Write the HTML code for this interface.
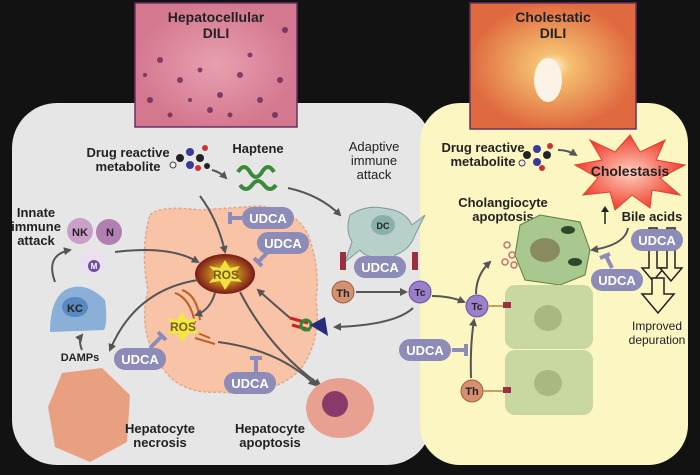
<!DOCTYPE html>
<html><head><meta charset="utf-8"><style>
html,body{margin:0;padding:0;background:#111;}
svg{display:block;font-family:"Liberation Sans",sans-serif;}
.b{font-weight:bold;font-size:13px;fill:#222;text-anchor:middle;}
.n{font-size:13px;fill:#222;text-anchor:middle;}
.u{font-weight:bold;font-size:13px;fill:#fff;text-anchor:middle;}
.a{stroke:#555;stroke-width:2;fill:none;marker-end:url(#ah);}
</style></head><body>
<svg width="700" height="475" viewBox="0 0 700 475">
<defs>
<marker id="ah" markerWidth="8" markerHeight="8" refX="6" refY="4" orient="auto" markerUnits="userSpaceOnUse"><path d="M0,0 L8,4 L0,8 z" fill="#555"/></marker>
<radialGradient id="pk"><stop offset="0" stop-color="#e8a0b0"/><stop offset="1" stop-color="#d47890"/></radialGradient>
<radialGradient id="og"><stop offset="0" stop-color="#fff4e0"/><stop offset="0.2" stop-color="#f5c070"/><stop offset="1" stop-color="#e06a40"/></radialGradient>
<radialGradient id="mi"><stop offset="0.3" stop-color="#d4a020"/><stop offset="1" stop-color="#7a1818"/></radialGradient>
<radialGradient id="cl"><stop offset="0" stop-color="#ffd0c0"/><stop offset="1" stop-color="#f04030"/></radialGradient>
<g id="udca"><rect x="-26" y="-11" width="52" height="22" rx="11" fill="#8d8bb8"/><text class="u" y="5">UDCA</text></g>
</defs>
<rect width="700" height="475" fill="#121212"/>
<rect x="12" y="103" width="420" height="362" rx="45" fill="#e6e6e6"/>
<rect x="420" y="103" width="268" height="362" rx="40" fill="#fbf6c2"/>
<rect x="135" y="3" width="162" height="124" fill="url(#pk)" stroke="#6a3060" stroke-width="1.5"/>
<g fill="#5a1a50" opacity="0.7">
<circle cx="160" cy="60" r="3"/><circle cx="180" cy="80" r="3"/><circle cx="200" cy="70" r="2.5"/><circle cx="220" cy="95" r="3"/><circle cx="240" cy="75" r="3"/><circle cx="260" cy="100" r="3"/><circle cx="150" cy="100" r="3"/><circle cx="170" cy="115" r="2.5"/><circle cx="210" cy="110" r="3"/><circle cx="250" cy="55" r="2.5"/><circle cx="280" cy="80" r="3"/><circle cx="275" cy="115" r="3"/><circle cx="190" cy="100" r="2"/><circle cx="230" cy="115" r="2.5"/><circle cx="145" cy="75" r="2"/><circle cx="285" cy="30" r="3"/>
</g>
<text class="b" x="216" y="22" style="font-size:14px">Hepatocellular</text>
<text class="b" x="216" y="38" style="font-size:14px">DILI</text>
<rect x="470" y="3" width="166" height="126" fill="url(#og)" stroke="#6a3060" stroke-width="1.5"/>
<ellipse cx="548" cy="80" rx="14" ry="22" fill="#fbf3e6"/>
<text class="b" x="553" y="22" style="font-size:14px">Cholestatic</text>
<text class="b" x="553" y="38" style="font-size:14px">DILI</text>

<text class="b" x="128" y="157">Drug reactive</text>
<text class="b" x="128" y="171">metabolite</text>
<g><circle cx="180" cy="158" r="4" fill="#222"/><circle cx="190" cy="152" r="4" fill="#3a3a9a"/><circle cx="200" cy="158" r="4" fill="#222"/><circle cx="190" cy="165" r="4" fill="#3a3a9a"/><circle cx="205" cy="148" r="3" fill="#c33"/><circle cx="198" cy="168" r="3" fill="#c33"/><circle cx="173" cy="165" r="3" fill="#eee" stroke="#444"/><circle cx="207" cy="166" r="3" fill="#222"/></g>
<path class="a" d="M212,170 Q220,172 226,178"/>
<text class="b" x="258" y="153">Haptene</text>
<g fill="none" stroke="#3a8a3a" stroke-width="4"><path d="M238,172 q6,-10 12,0 q6,10 12,0 q6,-10 12,0"/><path d="M240,185 q6,8 12,0 q6,-8 12,0 q6,8 12,0"/></g>
<text class="n" x="374" y="151">Adaptive</text>
<text class="n" x="374" y="165">immune</text>
<text class="n" x="374" y="179">attack</text>
<path class="a" d="M288,188 Q320,195 340,215"/>
<path d="M150,215 Q160,205 200,210 L260,206 Q300,210 310,240 Q320,270 316,300 Q322,340 300,370 Q270,398 220,392 Q175,395 158,360 Q138,330 148,290 Q140,250 150,215 z" fill="#f8c3a6" stroke="#e0a888" stroke-width="1.5" stroke-dasharray="3,2"/>
<ellipse cx="225" cy="274" rx="30" ry="20" fill="url(#mi)"/>
<polygon points="225,260 230,268 240,266 234,274 242,282 231,281 225,290 220,281 209,283 216,274 209,266 220,268" fill="#f0e040"/>
<text class="b" x="226" y="279" style="font-size:12px;fill:#7a5a20">ROS</text>
<g fill="none" stroke="#c06020" stroke-width="2"><path d="M175,293 q15,5 20,30"/><path d="M182,290 q15,5 18,30"/><path d="M190,330 l20,8"/><path d="M195,338 l20,6"/></g>
<polygon points="182,312 187,320 197,318 192,326 200,334 189,333 182,342 177,333 167,335 173,326 167,318 177,320" fill="#f0e840"/>
<text class="b" x="183" y="331" style="font-size:12px;fill:#7a6020">ROS</text>
<path class="a" d="M200,196 Q218,220 225,252"/>
<path class="a" d="M115,252 Q170,245 198,262"/>
<path class="a" d="M215,293 Q210,310 196,315"/>
<path class="a" d="M198,280 Q135,290 110,350"/>
<path class="a" d="M218,342 Q280,350 315,385"/>
<path class="a" d="M240,292 Q270,350 320,385"/>
<path class="a" d="M290,318 Q275,305 258,290"/>
<path class="a" d="M413,308 Q395,325 335,327"/>
<g><path d="M290,318 l18,5 m-16,2 l18,5" stroke="#c22" stroke-width="3"/><circle cx="306" cy="325" r="5" fill="none" stroke="#2a8a3a" stroke-width="3"/><polygon points="310,325 325,317 328,336" fill="#2a2a7a"/></g>
<use href="#udca" x="268" y="218"/><path d="M242,218 h-12 m0,-6 v12" stroke="#8d8bb8" stroke-width="4"/>
<use href="#udca" x="283" y="243"/><path d="M270,250 l-12,12 m-4,-4 l8,8" stroke="#8d8bb8" stroke-width="4"/>
<use href="#udca" x="140" y="359"/><path d="M150,348 l12,-12 m-4,-4 l8,8" stroke="#8d8bb8" stroke-width="4"/>
<use href="#udca" x="250" y="383"/><path d="M256,372 v-14 m-6,0 h12" stroke="#8d8bb8" stroke-width="4"/>
<text class="b" x="36" y="217">Innate</text>
<text class="b" x="36" y="231">immune</text>
<text class="b" x="36" y="245">attack</text>
<circle cx="80" cy="231" r="13" fill="#c8a0c8"/>
<text class="b" x="80" y="236" style="font-size:11px">NK</text>
<circle cx="109" cy="232" r="13" fill="#b080b0"/><text class="b" x="110" y="236" style="font-size:11px">N</text>
<circle cx="92" cy="262" r="13" fill="#ece0f0"/><circle cx="94" cy="266" r="6" fill="#7050a0"/><text class="b" x="94" y="269" style="font-size:8px;fill:#fff">M</text>
<path d="M50,332 Q50,300 65,290 Q85,280 105,300 Q108,322 104,330 z" fill="#8ab0d8"/>
<ellipse cx="75" cy="307" rx="13" ry="10" fill="#5a88c0"/><text class="b" x="75" y="312" style="font-size:11px">KC</text>
<path class="a" d="M55,282 Q45,255 70,250"/>
<path class="a" d="M82,350 Q78,340 82,335"/>
<text class="b" x="80" y="361" style="font-size:11px">DAMPs</text>
<polygon points="62,373 102,368 130,395 127,442 90,462 55,447 48,407" fill="#e8a080"/>
<text class="b" x="160" y="433">Hepatocyte</text>
<text class="b" x="160" y="447">necrosis</text>
<ellipse cx="340" cy="408" rx="34" ry="30" fill="#e8a090"/>
<circle cx="335" cy="404" r="13" fill="#8a3a6a"/>
<text class="b" x="270" y="433">Hepatocyte</text>
<text class="b" x="270" y="447">apoptosis</text>
<path d="M350,215 Q365,205 383,208 Q405,210 412,225 L425,215 L415,235 Q410,250 395,255 L400,275 L385,258 Q365,258 360,250 L345,262 L352,242 Q345,230 350,215 z" fill="#b8d0cc" stroke="#7a9a98"/>
<ellipse cx="383" cy="225" rx="12" ry="10" fill="#8ab0aa"/><text class="b" x="383" y="229" style="font-size:9px">DC</text>
<use href="#udca" x="380" y="267"/>
<rect x="340" y="252" width="6" height="18" fill="#9a3040"/><rect x="412" y="252" width="6" height="18" fill="#9a3040"/>
<circle cx="343" cy="292" r="11" fill="#d49070" stroke="#a06040"/><text class="b" x="343" y="297" style="font-size:11px">Th</text>
<circle cx="420" cy="292" r="11" fill="#9a80c8" stroke="#6a50a0"/><text class="b" x="420" y="296" style="font-size:10px">Tc</text>
<path class="a" d="M356,292 h50"/>
<text class="b" x="483" y="152">Drug reactive</text>
<text class="b" x="483" y="166">metabolite</text>
<g><circle cx="527" cy="155" r="4" fill="#222"/><circle cx="537" cy="149" r="4" fill="#3a3a9a"/><circle cx="547" cy="155" r="4" fill="#222"/><circle cx="537" cy="162" r="4" fill="#3a3a9a"/><circle cx="550" cy="146" r="3" fill="#c33"/><circle cx="542" cy="168" r="3" fill="#c33"/><circle cx="522" cy="163" r="3" fill="#eee" stroke="#444"/></g>
<path class="a" d="M558,150 Q568,150 576,155"/>
<polygon points="630,135 640,152 665,140 656,160 685,165 660,178 680,195 652,190 650,208 632,195 615,210 610,192 583,195 598,178 575,165 602,160 590,140 615,152" fill="url(#cl)" stroke="#e04030"/>
<text class="b" x="630" y="176" style="font-size:14px">Cholestasis</text>
<text class="b" x="503" y="207">Cholangiocyte</text>
<text class="b" x="503" y="221">apoptosis</text>
<text class="b" x="652" y="221">Bile acids</text>
<path d="M605,224 v-14" stroke="#222" stroke-width="1.5"/><path d="M601,212 l4,-6 l4,6 z" fill="#222"/>
<path d="M520,225 L540,215 L580,222 L590,250 L585,275 L560,285 L525,280 L515,255 z" fill="#a8c890" stroke="#5a8040"/>
<ellipse cx="545" cy="250" rx="15" ry="12" fill="#8a8a60"/>
<ellipse cx="568" cy="230" rx="7" ry="4" fill="#2a4a2a"/><ellipse cx="575" cy="262" rx="7" ry="4" fill="#2a4a2a"/>
<g fill="none" stroke="#c87070" stroke-width="1.5"><circle cx="507" cy="245" r="3"/><circle cx="512" cy="255" r="3"/><circle cx="505" cy="262" r="3"/><circle cx="514" cy="265" r="3"/></g>
<path class="a" d="M628,228 Q625,245 592,250"/>
<use href="#udca" x="617" y="280"/><path d="M612,268 l-6,-12 m-6,2 l10,-4" stroke="#8d8bb8" stroke-width="4"/>
<g fill="#fbf6c2" stroke="#222" stroke-width="1.5"><path d="M649,228 v40 h-7 l11,13 l11,-13 h-7 v-40 z"/><path d="M667,228 v40 h-7 l11,13 l11,-13 h-7 v-40 z"/><path d="M652,278 v16 h-10 l16,19 l16,-19 h-10 v-16 z"/></g>
<use href="#udca" x="657" y="240"/>
<text class="n" x="657" y="330" style="font-size:12px">Improved</text>
<text class="n" x="657" y="344" style="font-size:12px">depuration</text>
<rect x="505" y="285" width="88" height="64" rx="10" fill="#c8d8a0"/>
<ellipse cx="548" cy="318" rx="14" ry="13" fill="#a8b880"/>
<rect x="505" y="350" width="88" height="65" rx="10" fill="#c8d8a0"/>
<ellipse cx="548" cy="383" rx="14" ry="13" fill="#a8b880"/>
<circle cx="477" cy="306" r="11" fill="#9a80c8" stroke="#6a50a0"/><text class="b" x="477" y="310" style="font-size:10px">Tc</text>
<circle cx="472" cy="391" r="11" fill="#d49070" stroke="#a06040"/><text class="b" x="472" y="395" style="font-size:11px">Th</text>
<path d="M488,306 h15 M483,391 h20" stroke="#c8a060" stroke-width="2"/>
<rect x="503" y="302" width="8" height="6" fill="#9a3040"/><rect x="503" y="387" width="8" height="6" fill="#9a3040"/>
<path class="a" d="M432,296 Q450,296 464,302"/>
<path class="a" d="M476,294 Q476,275 490,262"/>
<path class="a" d="M471,378 Q470,345 474,320"/>
<use href="#udca" x="425" y="350"/><path d="M452,350 h14 m0,-6 v12" stroke="#8d8bb8" stroke-width="4"/>
</svg>
</body></html>
